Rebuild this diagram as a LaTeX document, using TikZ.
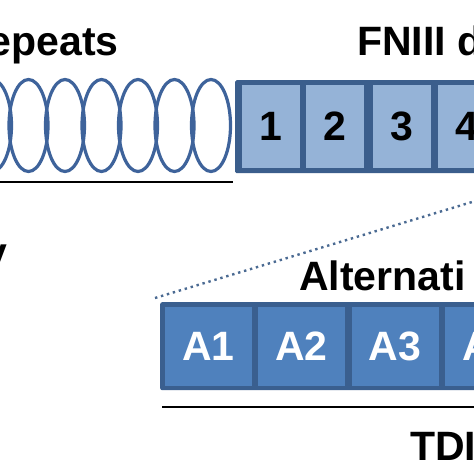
\documentclass[tikz,border=0pt]{standalone}
\usepackage{fontspec}
\setmainfont{Liberation Sans}
\definecolor{coilblue}{HTML}{3E639B}
\definecolor{fnborder}{HTML}{3B5E8C}
\definecolor{fncellc}{HTML}{95B3D7}
\definecolor{altborder}{HTML}{3A5F8F}
\definecolor{altcellc}{HTML}{4F81BD}
\definecolor{dotc}{HTML}{4A6A92}
\begin{document}
\begin{tikzpicture}[x=1pt,y=-1pt,
  bigtext/.style={font=\fontsize{41}{41}\selectfont\bfseries, inner sep=0pt, text=black},
  coil/.style={draw=coilblue, line width=3.2pt},
  fnouter/.style={fill=fnborder, draw=none, rounded corners=1.5pt, minimum width=300pt, minimum height=93pt, inner sep=0pt, anchor=north west},
  fncell/.style={fill=fncellc, draw=none, minimum width=58pt, minimum height=83pt, inner sep=0pt, font=\fontsize{41}{41}\selectfont\bfseries, text=black},
  altouter/.style={fill=altborder, draw=none, rounded corners=2pt, minimum width=400pt, minimum height=88pt, inner sep=0pt, anchor=north west},
  altcell/.style={fill=altcellc, draw=none, minimum width=87pt, minimum height=79pt, inner sep=0pt, font=\fontsize{41}{41}\selectfont\bfseries, text=white},
  rule/.style={draw=black, line width=2.6pt},
  dotline/.style={draw=dotc, line width=2.4pt, dash pattern=on 2.4pt off 3.8pt}
]
\useasboundingbox (0,0) rectangle (474,474);
\fill[white] (0,0) rectangle (474,474);

% titles
\node[bigtext, anchor=base east] (rep) at (119,55) {epeats};
\node[bigtext, anchor=base west] (fnt) at (357,55) {FNIII d};
\node[bigtext, anchor=base east] (frag) at (8,266) {y};

% coils
\foreach \cx in {-8,28.5,65,101.5,138,174.5,211} {
  \draw[coil] (\cx,125.5) ellipse [x radius=19.5pt, y radius=46pt];
}
\coordinate (r1a) at (0,182);
\coordinate (r1b) at (233,182);
\draw[rule] (r1a) -- (r1b);

% FNIII domains
\node[fnouter] (fn) at (235,80) {};
\node[fncell] (c1) at (270.5,126.5) {1};
\node[fncell] (c2) at (335,126.5) {2};
\node[fncell] (c3) at (401.5,126.5) {3};
\node[fncell] (c4) at (467,126.5) {4};

% alternative domains
\node[bigtext, anchor=base west] (alt) at (299,290) {Alternati};
\node[altouter] (ao) at (160,302) {};
\node[altcell] (a1) at (208.5,346.5) {A1};
\node[altcell] (a2) at (301.5,346.5) {A2};
\node[altcell] (a3) at (395,346.5) {A3};
\node[altcell] (a4) at (488.5,346.5) {A4};

\coordinate (dend) at (480,199.6);
\draw[dotline] ([xshift=-5pt,yshift=4pt]ao.north west) -- (dend);

\coordinate (r2a) at (162,407);
\coordinate (r2b) at (480,407);
\draw[rule] (r2a) -- (r2b);
\node[bigtext, anchor=base west] (tdi) at (410,460) {TDI};
\end{tikzpicture}
\end{document}
